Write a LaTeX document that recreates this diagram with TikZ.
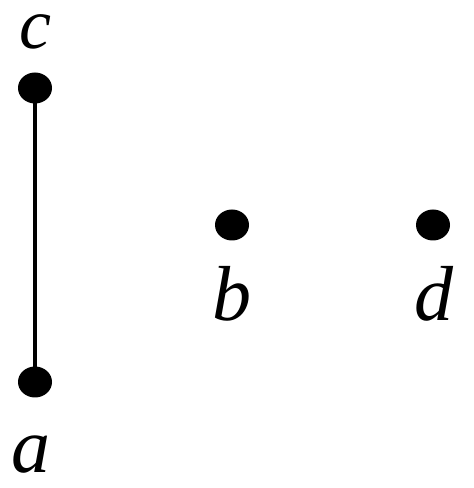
\documentclass[tikz,border=0pt]{standalone}
\usepackage{fontspec}
\newfontfamily\timesit{Liberation Serif Italic}
\tikzset{
  vertex/.style={fill=black, ellipse, inner sep=0pt, minimum width=34pt, minimum height=31pt},
  lbl/.style={font=\fontsize{78}{78}\timesit, anchor=base, inner sep=0pt, text height=0.7em, text depth=0pt},
  edge/.style={line width=3.5pt}
}
\usetikzlibrary{shapes.geometric}
\begin{document}
\begin{tikzpicture}[x=1pt,y=1pt]
\useasboundingbox (0,0) rectangle (474,488);
\node[vertex] (c) at (35,400) {};
\node[vertex] (a) at (35,106) {};
\node[vertex] (b) at (232,263) {};
\node[vertex] (d) at (433,263) {};
\draw[edge] (c.center) -- (a.center);
\node[lbl, font=\fontsize{72}{72}\timesit, text height=0.45em] (lc) at (35,439) {c};
\node[lbl] (la) at (31,16) {a};
\node[lbl] (lb) at (232,167) {b};
\node[lbl] (ld) at (434,167) {d};
\end{tikzpicture}
\end{document}
